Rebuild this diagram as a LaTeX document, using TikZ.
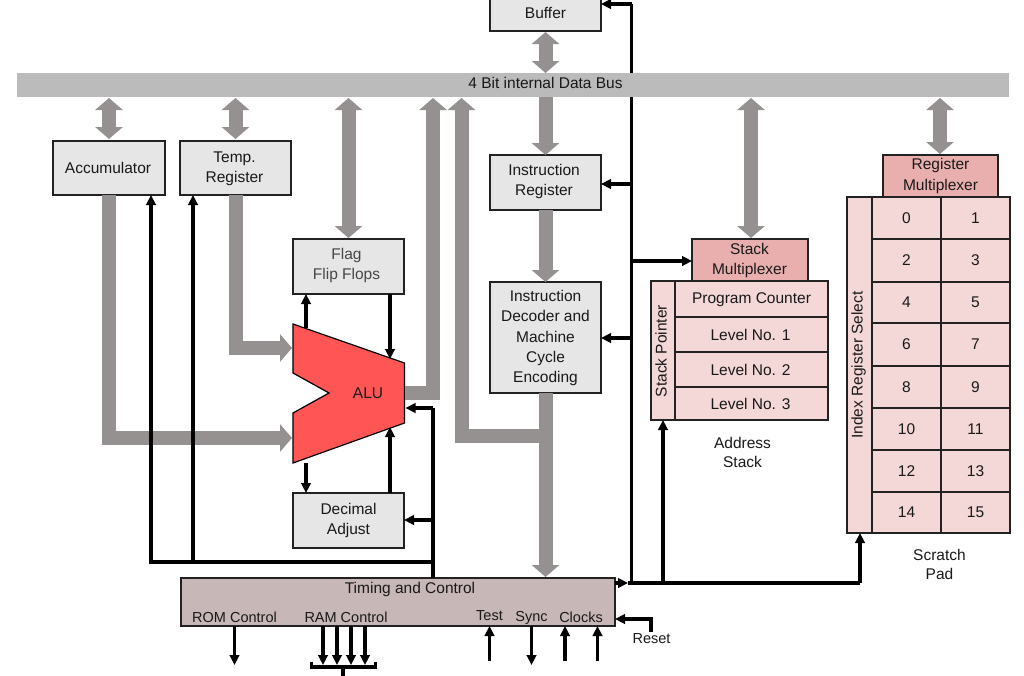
\documentclass[tikz,border=0pt]{standalone}
\usepackage{fontspec}
\setmainfont{Liberation Sans}
\usetikzlibrary{arrows.meta,calc}
\definecolor{boxgray}{HTML}{E6E6E6}
\definecolor{busgray}{HTML}{BBBBBB}
\definecolor{pipegray}{HTML}{969191}
\definecolor{muxpink}{HTML}{E9AFAF}
\definecolor{cellpink}{HTML}{F4D7D7}
\definecolor{alured}{HTML}{FF5555}
\definecolor{ctlbrown}{HTML}{C8B7B7}
\definecolor{edgeink}{HTML}{222222}
\tikzset{
  txt/.style={font=\fontsize{15.5}{20.3}\selectfont,align=center,inner sep=0pt,outer sep=0pt,text=black!90},
  small/.style={txt,font=\fontsize{14.5}{18}\selectfont},
  box/.style={txt,draw=edgeink,line width=1.3pt,fill=#1},
  box/.default=boxgray,
  pipe/.style={draw=pipegray,line width=14pt,line join=miter},
  pipeend/.style={pipe,-{Triangle[width=27pt,length=12pt]}},
  pipeboth/.style={pipe,{Triangle[width=27pt,length=12pt]}-{Triangle[width=27pt,length=12pt]}},
  sig/.style={draw=black,line width=3.4pt,line join=miter},
  sigend/.style={sig,-{Triangle[width=9.5pt,length=10pt]}},
}
\begin{document}
\begin{tikzpicture}[x=1pt,y=-1pt]
\useasboundingbox (0,0) rectangle (1024,675);

% junction coordinates
\coordinate (spineTop) at (631.5,4);
\coordinate (spineBot) at (631.5,583);
\coordinate (sptap) at (663,583);
\coordinate (irstap) at (860,583);
\coordinate (ctlrail) at (433,562);
\coordinate (railL) at (151,562);
\coordinate (railM) at (193,562);
\coordinate (aluback) at (433,408);
\coordinate (decback) at (433,520);
\coordinate (muxtap) at (631.5,261);
\coordinate (irtap) at (631.5,184);
\coordinate (idtap) at (631.5,338);

% boxes
\node[box,minimum width=111,minimum height=36] (buf) at (545.5,13) {Buffer};
\node[box,minimum width=112,minimum height=54] (acc) at (109,168) {};
\node[txt] (acctxt) at (108,167.5) {Accumulator};
\node[box,minimum width=111,minimum height=54] (tmp) at (235.5,168) {};
\node[txt] (tmptxt) at (234.5,168.5) {Temp.\\Register};
\node[box,minimum width=111,minimum height=55] (flag) at (348.5,266.5) {};
\node[txt,text=black!72] (flagtxt) at (346.5,265.5) {Flag\\Flip Flops};
\node[box,minimum width=111,minimum height=55] (ir) at (545.5,182.5) {};
\node[txt] (irtxt) at (544,181.5) {Instruction\\Register};
\node[box,minimum width=111,minimum height=111] (id) at (545.5,337.5) {};
\node[txt] (idtxt) at (545.5,338.2) {Instruction\\Decoder and\\Machine\\Cycle\\Encoding};
\node[box,minimum width=111,minimum height=55] (dec) at (348.5,520.5) {Decimal\\Adjust};

% ALU
\node[inner sep=0pt,outer sep=0pt,minimum size=0pt] (alu) at (348.5,393) {};
\draw[fill=alured,draw=black,line width=1.2pt,line join=miter]
  (293,324) -- (404.5,363) -- (404.5,423) -- (293,463) -- (293,413) -- (329,393) -- (293,373) -- cycle;
\node[txt] (alutxt) at (368,393) {ALU};
\coordinate (aluE) at (404.5,393);
\coordinate (aluIa) at (292,348);
\coordinate (aluIb) at (292,438);

% stack
\node[box=muxpink,minimum width=116,minimum height=42] (smux) at (750,260) {};
\node[txt] (smuxtxt) at (749.5,260.5) {Stack\\Multiplexer};
\node[box=cellpink,minimum width=24,minimum height=139] (sp) at (663,350.5) {};
\node[txt,rotate=90] (sptxt) at (661,351) {Stack Pointer};
\node[box=cellpink,minimum width=153,minimum height=36] (l0) at (751.5,299) {};
\node[txt] (l0txt) at (751.5,299.5) {Program Counter};
\node[box=cellpink,minimum width=153,minimum height=35] (l1) at (751.5,334.5) {};
\node[txt] (l1txt) at (750.5,334.5) {Level No. 1};
\node[box=cellpink,minimum width=153,minimum height=35] (l2) at (751.5,369.5) {};
\node[txt] (l2txt) at (750.5,369.5) {Level No. 2};
\node[box=cellpink,minimum width=153,minimum height=33] (l3) at (751.5,403.5) {};
\node[txt] (l3txt) at (750.5,403.5) {Level No. 3};
\node[txt] (addr) at (742.5,452.5) {Address\\[-2pt]Stack};

% register file
\node[box=muxpink,minimum width=115,minimum height=42] (rmux) at (940.5,176) {Register\\Multiplexer};
\node[box=cellpink,minimum width=25,minimum height=336] (irs) at (859.5,365) {};
\node[txt,rotate=90] (irstxt) at (858.5,365) {Index Register Select};
\foreach \a/\b/\yc/\h in {0/1/218/42,2/3/260.5/43,4/5/302.5/41,6/7/344.5/43,8/9/387/42,10/11/429/42,12/13/471/42,14/15/512.5/41}{
  \node[box=cellpink,minimum width=69,minimum height=\h] (c\a) at (906.5,\yc) {\a};
  \node[box=cellpink,minimum width=69,minimum height=\h] (c\b) at (975.5,\yc) {\b};
}
\node[txt] (scr) at (939.5,564.5) {Scratch\\[-2pt]Pad};

% black signals (under the bus)
\draw[sig] (spineTop) -- (spineBot);
\draw[sigend] (spineTop) -- (buf.east |- spineTop);
\draw[sigend] (irtap) -- (ir.east |- irtap);
\draw[sigend] (idtap) -- (id.east |- idtap);
\draw[sigend] (muxtap) -- (smux.west |- muxtap);

% data bus
\node[txt,fill=busgray,minimum width=992,minimum height=24] (bus) at (513,85) {};
\node[txt] (bustxt) at (545.5,83) {4 Bit internal Data Bus};

% grey pipes
\draw[pipeboth] (buf.south) ++(0,1) -- (bus.north -| buf.south);
\draw[pipeend] (bus.south -| ir.north) -- (ir.north);
\draw[pipeend] (ir.south) -- (id.north);
\coordinate (ctlin) at (545.5,577);
\draw[pipeend] (id.south) -- (ctlin);
\coordinate (busA) at (109,98);\coordinate (accN) at (109,139);
\draw[pipeboth] (busA) -- (accN);
\coordinate (busB) at (235.5,98);\coordinate (tmpN) at (235.5,139);
\draw[pipeboth] (busB) -- (tmpN);
\coordinate (busC) at (348.5,98);\coordinate (flagN) at (348.5,238);
\draw[pipeboth] (busC) -- (flagN);
\coordinate (busD) at (751,98);\coordinate (smuxN) at (751,238);
\draw[pipeboth] (busD) -- (smuxN);
\coordinate (busE) at (940,98);\coordinate (rmuxN) at (940,154);
\draw[pipeboth] (busE) -- (rmuxN);
\draw[pipeend] (acc.south) -- (acc.south |- aluIb) -- (aluIb);
\draw[pipeend] (tmp.south) -- (tmp.south |- aluIa) -- (aluIa);
\coordinate (busF) at (433,98);
\draw[pipeend] (aluE) -- (busF |- aluE) -- (busF);
\coordinate (busG) at (461.5,98);\coordinate (idW) at (545.5,436);
\draw[pipeend] (idW) -- (busG |- idW) -- (busG);

% timing & control
\node[txt,draw=edgeink,line width=1.3pt,fill=ctlbrown,minimum width=434,minimum height=48] (ctl) at (398,602) {};
\node[txt] (ctltxt) at (410,589.5) {Timing and Control};
\node[small] (rom) at (234.5,617) {ROM Control};
\node[small] (ram) at (346,617) {RAM Control};
\node[small] (tst) at (489.5,616) {Test};
\node[small] (syn) at (531.5,618) {Sync};
\node[small] (clk) at (581,617) {Clocks};
\node[small] (rst) at (651.5,638.5) {Reset};

% black signals
\coordinate (ctlOut) at (628,583);
\draw[sig] (spineBot) -- (irstap);
\draw[sigend] (irstap) -- (irs.south -| irstap);
\draw[sigend] (sptap) -- (sp.south -| sptap);
\draw[sigend] (ctl.east |- spineBot) -- (ctlOut);
\draw[sig] (ctlOut) -- (spineBot);
\draw[sig] (ctl.north -| ctlrail) -- (aluback);
\draw[sigend] (aluback) -- (405.5,408);
\draw[sigend] (decback) -- (dec.east |- decback);
\draw[sigend] (ctlrail) -- (railL) -- (railL |- acc.south);
\draw[sigend] (railM) -- (railM |- tmp.south);
\coordinate (f1) at (306,328);\coordinate (f2) at (390,359);
\draw[sigend] (f1) -- (f1 |- flag.south);
\draw[sigend] (f2 |- flag.south) -- (f2);
\coordinate (d1) at (306,463);\coordinate (d2) at (390,427);
\draw[sigend] (d1) -- (d1 |- dec.north);
\draw[sigend] (d2 |- dec.north) -- (d2);

\coordinate (romE) at (234.5,665);
\draw[sigend] (romE |- ctl.south) -- (romE);
\foreach \x [count=\i] in {323,337,351,365}{
  \coordinate (ram\i) at (\x,665);
  \draw[sigend] (ram\i |- ctl.south) -- (ram\i);
}
\coordinate (brL) at (311.5,662);\coordinate (brR) at (375.5,662);\coordinate (brS) at (343,680);
\draw[draw=black,line width=3.2pt,line join=miter] (brL) -- (311.5,667) -- (375.5,667) -- (brR);
\draw[sig] (343,667) -- (brS);
\coordinate (tstS) at (489.5,661);
\draw[sigend] (tstS) -- (tstS |- ctl.south);
\coordinate (synE) at (531.5,665);
\draw[sigend] (synE |- ctl.south) -- (synE);
\coordinate (ck1) at (565,661);\coordinate (ck2) at (597.5,661);
\draw[sigend] (ck1) -- (ck1 |- ctl.south);
\draw[sigend] (ck2) -- (ck2 |- ctl.south);
\coordinate (rstS) at (651,632);\coordinate (rstK) at (651,619);
\draw[sigend] (rstS) -- (rstK) -- (ctl.east |- rstK);
\end{tikzpicture}
\end{document}
